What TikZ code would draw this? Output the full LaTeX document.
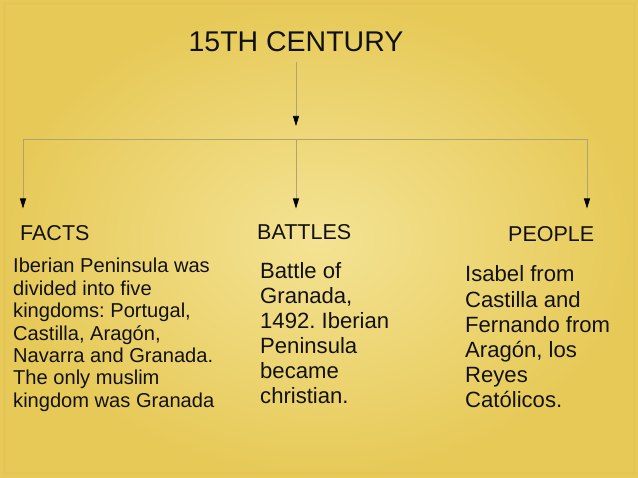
\documentclass[tikz,border=0pt]{standalone}
\usepackage{fontspec}
\setmainfont{Liberation Sans}
\usetikzlibrary{arrows.meta}
\definecolor{paperin}{HTML}{F4E394}
\definecolor{paperout}{HTML}{E6C957}
\definecolor{linecol}{HTML}{B0A272}
\definecolor{inkcol}{HTML}{111111}
\tikzset{
  conn/.style={draw=linecol, line width=0.6pt},
  arr/.style={conn, -{Triangle[length=10pt,width=6pt,color=black]}},
  head/.style={inner sep=0pt, anchor=base west, font=\fontsize{21.5}{25}\selectfont, text=inkcol},
  smallbody/.style={inner sep=0pt, anchor=base west, align=left, font=\fontsize{20.1}{22.4}\selectfont, text=inkcol},
  bigbody/.style={inner sep=0pt, anchor=base west, align=left, font=\fontsize{22.1}{25.2}\selectfont, text=inkcol},
}
\frenchspacing
\begin{document}
\begin{tikzpicture}[x=1pt,y=-1pt]
\useasboundingbox (0,0) rectangle (638,478);
\shade[outer color=paperout, inner color=paperin] (0,0) rectangle (638,478);
\draw[paperout!85!brown, line width=3pt, opacity=0.3] (4,4) rectangle (634,474);
\node[inner sep=0pt, anchor=base, font=\fontsize{28.5}{33}\selectfont, text=inkcol] (title) at (296,52) {15TH CENTURY};
\coordinate (top) at (296,62);
\coordinate (mid) at (296,126);
\coordinate (hl) at (23,139);
\coordinate (hm) at (296,139);
\coordinate (hr) at (587,139);
\coordinate (tl) at (23,208.5);
\coordinate (tm) at (296,208.5);
\coordinate (tr) at (587,208.5);
\draw[arr] (top) -- (mid);
\draw[conn] (hl) -- (hr);
\draw[arr] (hl) -- (tl);
\draw[arr] (hm) -- (tm);
\draw[arr] (hr) -- (tr);
\node[head] (facts) at (20,241) {FACTS};
\node[head] (battles) at (257,240) {BATTLES};
\node[head] (people) at (508,242) {PEOPLE};
\node[smallbody] (factstext) at (13,407.4) {Iberian Peninsula was\\divided into five\\kingdoms: Portugal,\\Castilla, Aragón,\\Navarra and Granada.\\The only muslim\\kingdom was Granada};
\node[bigbody] (battletext) at (260,404) {Battle of\\Granada,\\1492. Iberian\\Peninsula\\became\\christian.};
\node[bigbody] (peopletext) at (465,408) {Isabel from\\Castilla and\\Fernando from\\Aragón, los\\Reyes\\Católicos.};
\end{tikzpicture}
\end{document}
